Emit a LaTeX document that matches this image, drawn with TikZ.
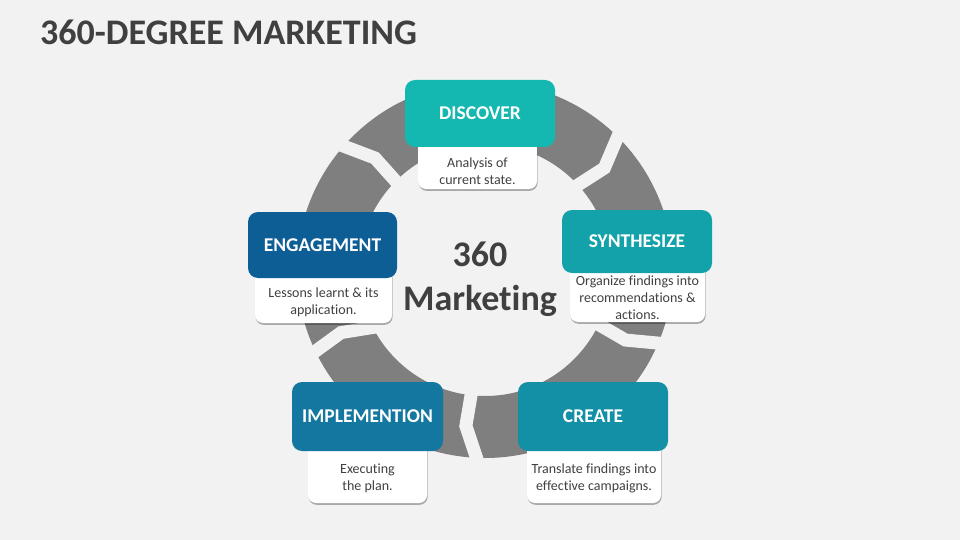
\documentclass[tikz,border=0pt]{standalone}
\usepackage{fontspec}
\setmainfont[Ligatures={NoCommon}]{Carlito}
\usetikzlibrary{calc,shadows}
\definecolor{bgc}{HTML}{F2F2F2}
\definecolor{ringgray}{HTML}{7F7F7F}
\definecolor{darktext}{HTML}{404040}
\definecolor{cDiscover}{HTML}{14B8B0}
\definecolor{cSynth}{HTML}{13A2A9}
\definecolor{cCreate}{HTML}{138FA6}
\definecolor{cImpl}{HTML}{1377A0}
\definecolor{cEngage}{HTML}{0E5E96}
\begin{document}
\begin{tikzpicture}[x=1pt,y=-1pt,
  headbox/.style={rounded corners=10pt, inner sep=0pt, text=white,
    font=\bfseries\fontsize{19.5}{23}\selectfont},
  notebox/.style={fill=white, rounded corners=8pt, inner sep=0pt,
    drop shadow={shadow xshift=0.6pt, shadow yshift=-1.8pt, opacity=0.3, fill=black}},
  notetext/.style={align=center, text=darktext, inner sep=0pt,
    font=\fontsize{14}{17}\selectfont},
  gapcut/.style={draw=bgc, line width=13pt, line join=miter, miter limit=10},
]
\fill[bgc] (0,0) rectangle (960,540);
\useasboundingbox (0,0) rectangle (960,540);

% title
\node[anchor=base west, inner sep=0pt, text=darktext,
  font=\bfseries\fontsize{36}{40}\selectfont] (title) at (40,45) {360-DEGREE MARKETING};

% ring of arrows
\coordinate (c) at (485,270);
\fill[ringgray, even odd rule] (c) circle[radius=188pt] (c) circle[radius=126pt];
\draw[gapcut] ($(c)+(-141:210)$) -- ($(c)+(-134.5:157)$) -- ($(c)+(-136:100)$);
\draw[gapcut] ($(c)+(-47.5:210)$) -- ($(c)+(-40.5:157)$) -- ($(c)+(-45:100)$);
\draw[gapcut] ($(c)+(21:210)$) -- ($(c)+(26.5:157)$) -- ($(c)+(24.5:100)$);
\draw[gapcut] ($(c)+(90.3:210)$) -- ($(c)+(97:157)$) -- ($(c)+(95.5:100)$);
\draw[gapcut] ($(c)+(153.3:210)$) -- ($(c)+(156.5:157)$) -- ($(c)+(148:100)$);

% centre text
\node[align=center, inner sep=0pt, text=darktext,
  font=\bfseries\fontsize{36}{44}\selectfont] (centre) at (480,279) {360\\Marketing};

% DISCOVER
\node[notebox, minimum width=119pt, minimum height=52pt] (discoverbox) at (477.5,163) {};
\node[headbox, fill=cDiscover, minimum width=150pt, minimum height=67pt] (discover) at (480,113.5) {DISCOVER};
\node[notetext] (discovertext) at (477.5,171) {Analysis of\\current state.};

% SYNTHESIZE
\node[notebox, minimum width=135pt, minimum height=59pt] (synthbox) at (637.5,292.5) {};
\node[headbox, fill=cSynth, minimum width=150pt, minimum height=63pt] (synth) at (637,241.5) {SYNTHESIZE};
\node[notetext] (synthtext) at (637.5,297.5) {Organize findings into\\recommendations \&\\actions.};

% CREATE
\node[notebox, minimum width=134pt, minimum height=63pt] (createbox) at (594,471.5) {};
\node[headbox, fill=cCreate, minimum width=150pt, minimum height=69pt] (create) at (593,416.5) {CREATE};
\node[notetext] (createtext) at (594,478) {Translate findings into\\effective campaigns.};

% IMPLEMENTION
\node[notebox, minimum width=119pt, minimum height=63pt] (implbox) at (367.5,471.5) {};
\node[headbox, fill=cImpl, minimum width=151pt, minimum height=69pt] (impl) at (367.5,416.5) {IMPLEMENTION};
\node[notetext] (impltext) at (367.5,478) {Executing\\the plan.};

% ENGAGEMENT
\node[notebox, minimum width=137pt, minimum height=55pt] (engbox) at (323.5,295.5) {};
\node[headbox, fill=cEngage, minimum width=149pt, minimum height=66pt] (eng) at (322.5,245) {ENGAGEMENT};
\node[notetext] (engtext) at (323.5,302) {Lessons learnt \& its\\application.};
\end{tikzpicture}
\end{document}
